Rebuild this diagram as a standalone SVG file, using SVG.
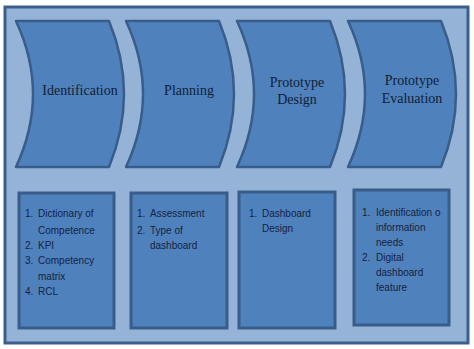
<svg xmlns="http://www.w3.org/2000/svg" width="474" height="349" viewBox="0 0 474 349">
<style>
.frame{fill:#95b3d7;stroke:#3b5f8c;stroke-width:3}
.stage{fill:#4f81bd;stroke:#385d8a;stroke-width:2.5;stroke-linejoin:round}
.box{fill:#4f81bd;stroke:#385d8a;stroke-width:3}
.h{font-family:"Liberation Serif","Times New Roman",serif;font-size:14px;fill:#0f1e36;text-anchor:middle}
.t{font-family:"Liberation Sans",Arial,sans-serif;font-size:10px;fill:#14233f}
</style>
<rect width="474" height="349" fill="#ffffff"/>
<rect class="frame" x="5" y="7" width="463" height="336"/>
<g id="stage1">
<path class="stage" d="M16,21 L109,21 Q139,94 109,167 L16,167 Q50,94 16,21 Z"/>
<text class="h" x="80" y="95">Identification</text>
</g>
<g id="stage2">
<path class="stage" d="M126,21 L219,21 Q249,94 219,167 L126,167 Q160,94 126,21 Z"/>
<text class="h" x="189" y="95">Planning</text>
</g>
<g id="stage3">
<path class="stage" d="M237,21 L330,21 Q360,94 330,167 L237,167 Q271,94 237,21 Z"/>
<text class="h" x="297" y="87">Prototype</text>
<text class="h" x="297" y="104">Design</text>
</g>
<g id="stage4">
<path class="stage" d="M348,21 L441,21 Q471,94 441,167 L348,167 Q382,94 348,21 Z"/>
<text class="h" x="412" y="85">Prototype</text>
<text class="h" x="412" y="103">Evaluation</text>
</g>
<g id="box1">
<rect class="box" x="19" y="193" width="95" height="135"/>
<text class="t" x="25" y="217">1.</text><text class="t" x="38" y="217">Dictionary of</text>
<text class="t" x="38" y="234">Competence</text>
<text class="t" x="25" y="249">2.</text><text class="t" x="38" y="249">KPI</text>
<text class="t" x="25" y="264">3.</text><text class="t" x="38" y="264">Competency</text>
<text class="t" x="38" y="280">matrix</text>
<text class="t" x="25" y="295">4.</text><text class="t" x="38" y="295">RCL</text>
</g>
<g id="box2">
<rect class="box" x="131" y="193" width="96" height="135"/>
<text class="t" x="137" y="217">1.</text><text class="t" x="150" y="217">Assessment</text>
<text class="t" x="137" y="234">2.</text><text class="t" x="150" y="234">Type of</text>
<text class="t" x="150" y="249">dashboard</text>
</g>
<g id="box3">
<rect class="box" x="239" y="192" width="96" height="136"/>
<text class="t" x="249" y="217">1.</text><text class="t" x="262" y="217">Dashboard</text>
<text class="t" x="262" y="232">Design</text>
</g>
<g id="box4">
<rect class="box" x="354" y="190" width="95" height="135"/>
<text class="t" x="362" y="216">1.</text><text class="t" x="376" y="216">Identification o</text>
<text class="t" x="376" y="231">information</text>
<text class="t" x="376" y="246">needs</text>
<text class="t" x="362" y="261">2.</text><text class="t" x="376" y="261">Digital</text>
<text class="t" x="376" y="276">dashboard</text>
<text class="t" x="376" y="291">feature</text>
</g>
<g id="connectors"/>
</svg>
